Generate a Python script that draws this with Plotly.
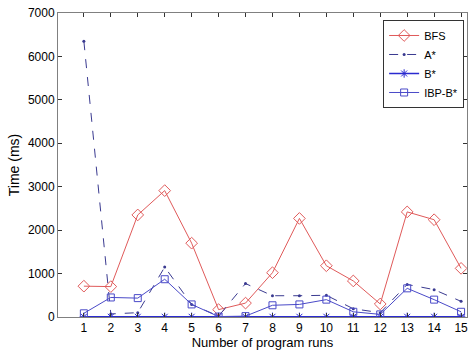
import plotly.graph_objects as go

runs = list(range(1, 16))
bfs = [710, 700, 2350, 2910, 1700, 170, 320, 1020, 2270, 1180, 830, 300, 2420, 2240, 1120]
astar = [6350, 70, 100, 1150, 290, 20, 770, 490, 490, 500, 190, 100, 750, 630, 360]
bstar = [5, 5, 5, 5, 5, 5, 5, 5, 5, 5, 5, 5, 5, 5, 5]
ibp = [85, 450, 435, 870, 290, 10, 20, 270, 290, 400, 120, 60, 660, 400, 120]

red = "#e05a5a"
navy = "#3a3a90"
blue = "#2a2ad0"
blue2 = "#4a4ac8"
FONT = "Liberation Sans"

fig = go.Figure()
fig.add_trace(go.Scatter(x=runs, y=bfs, name="BFS", mode="lines+markers",
                         line=dict(color=red, width=1),
                         marker=dict(symbol="diamond-open", size=9, color=red, line=dict(width=1))))
fig.add_trace(go.Scatter(x=runs, y=astar, name="A*", mode="lines+markers",
                         line=dict(color=navy, width=1, dash="dash"),
                         marker=dict(symbol="circle", size=3, color=navy)))
fig.add_trace(go.Scatter(x=runs, y=bstar, name="B*", mode="lines+markers",
                         line=dict(color=blue, width=1.5),
                         marker=dict(symbol="asterisk-open", size=7, color=blue, line=dict(width=1, color=blue))))
fig.add_trace(go.Scatter(x=runs, y=ibp, name="IBP-B*", mode="lines+markers",
                         line=dict(color=blue2, width=1),
                         marker=dict(symbol="square-open", size=7, color=blue2, line=dict(width=1))))

axis_common = dict(showgrid=False, zeroline=False, showline=True, linecolor="#808080",
                   linewidth=1, mirror="ticks", ticks="inside", ticklen=4, tickcolor="#333333",
                   ticklabeloverflow="allow",
                   tickfont=dict(family=FONT, size=12, color="#000000"))

fig.update_layout(
    width=474, height=356,
    margin=dict(l=58, r=6, t=6, b=39),
    paper_bgcolor="white", plot_bgcolor="white",
    showlegend=True,
    legend=dict(x=0.993, y=0.977, xanchor="right", yanchor="top",
                bgcolor="white", bordercolor="#333333", borderwidth=1,
                font=dict(family=FONT, size=11, color="#000000"),
                tracegroupgap=0, itemwidth=30),
    xaxis=dict(range=[0.04, 15.22], tickmode="array", tickvals=runs,
               title=dict(text="Number of program runs", standoff=2,
                          font=dict(family=FONT, size=13, color="#000000")),
               **axis_common),
    yaxis=dict(range=[0, 7000], tickmode="array", tickvals=list(range(0, 7001, 1000)),
               title=dict(text="Time (ms)", standoff=4,
                          font=dict(family=FONT, size=14, color="#000000")),
               **axis_common),
)

fig.write_html("out.html")
